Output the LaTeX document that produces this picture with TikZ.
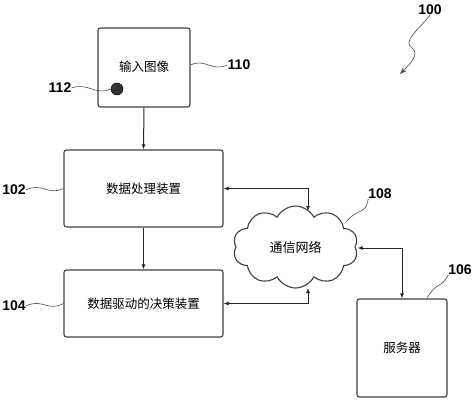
\documentclass[tikz,border=0pt]{standalone}
\usepackage{fontspec}
\setmainfont{Liberation Sans}
\newfontfamily\cjk{Noto Sans CJK SC}
\usetikzlibrary{shapes.symbols,arrows.meta}
\tikzset{
  blk/.style={draw=black!75, line width=1.1pt, rounded corners=2.5pt, inner sep=0pt, font=\cjk\fontsize{12.5}{14}\selectfont},
  lbl/.style={inner sep=0pt, font=\bfseries\fontsize{14}{16}\selectfont},
  lead/.style={draw=black!70, line width=0.6pt},
  conn/.style={draw=black!85, line width=1pt, {Latex[length=5pt,width=4pt]}-{Latex[length=5pt,width=4pt]}},
  one/.style={draw=black!85, line width=1pt, -{Latex[length=5pt,width=4pt]}},
}
\begin{document}
\begin{tikzpicture}[x=1pt,y=-1pt]
\useasboundingbox (0,0) rectangle (474,402);
% boxes
\node[blk, minimum width=92pt, minimum height=79pt] (inp) at (144,67.5) {};
\node[font=\cjk\fontsize{12.5}{14}\selectfont, inner sep=0pt] (inptxt) at (144,66.5) {输入图像};
\node[blk, minimum width=159pt, minimum height=77pt] (dp) at (143.5,188.5) {数据处理装置};
\node[blk, minimum width=159pt, minimum height=67pt] (dd) at (143.5,303.5) {数据驱动的决策装置};
\node[blk, minimum width=90pt, minimum height=98pt] (srv) at (402,348) {服务器};
\node[cloud, draw=black!75, line width=1.1pt, cloud puffs=10, cloud puff arc=125, aspect=1.55, minimum width=125pt, minimum height=82pt, inner sep=0pt, font=\cjk\fontsize{13}{14}\selectfont] (net) at (295.5,247) {通信网络};
% dot
\node[circle, fill=black!80, draw=black, line width=0.5pt, minimum size=12pt, inner sep=0pt] (dot) at (117,89) {};
% labels
\node[lbl] (l100) at (430,10) {100};
\node[lbl] (l110) at (239,65) {110};
\node[lbl] (l112) at (60,88) {112};
\node[lbl] (l102) at (14,190) {102};
\node[lbl] (l104) at (14,306) {104};
\node[lbl] (l108) at (380,194) {108};
\node[lbl] (l106) at (460,270) {106};
% coordinates on cloud
\coordinate (ctop) at (308,211);
\coordinate (cbot) at (308,288);
\coordinate (cright) at (357.5,248);
% connectors
\draw[one] (inp.south) -- (dp.north);
\draw[one] (dp.south) -- (dd.north);
\draw[conn] (dp.east) -| (ctop);
\draw[conn] (dd.east) -| (cbot);
\draw[conn] (cright) -| (srv.north);
% leader squiggles
\draw[lead] (inp.east |- 0,65) .. controls (205,58) and (212,72) .. (l110.west);
\draw[lead] (l112.east) .. controls (88,82) and (95,96) .. (dot.west);
\draw[lead] (l102.east) .. controls (42,182) and (48,196) .. (dp.west);
\draw[lead] (l104.east) .. controls (42,298) and (48,312) .. (dd.west);
\draw[lead] (346,222) .. controls (360,206) and (365,216) .. (l108.south west);
\draw[lead] (427,298) .. controls (438,280) and (440,290) .. (l106.south west);
\draw[lead, -{Stealth[length=7pt,width=5pt]}] (l100.south) .. controls (418,30) and (402,42) .. (412,48) .. controls (420,54) and (410,64) .. (400,74);
\end{tikzpicture}
\end{document}
